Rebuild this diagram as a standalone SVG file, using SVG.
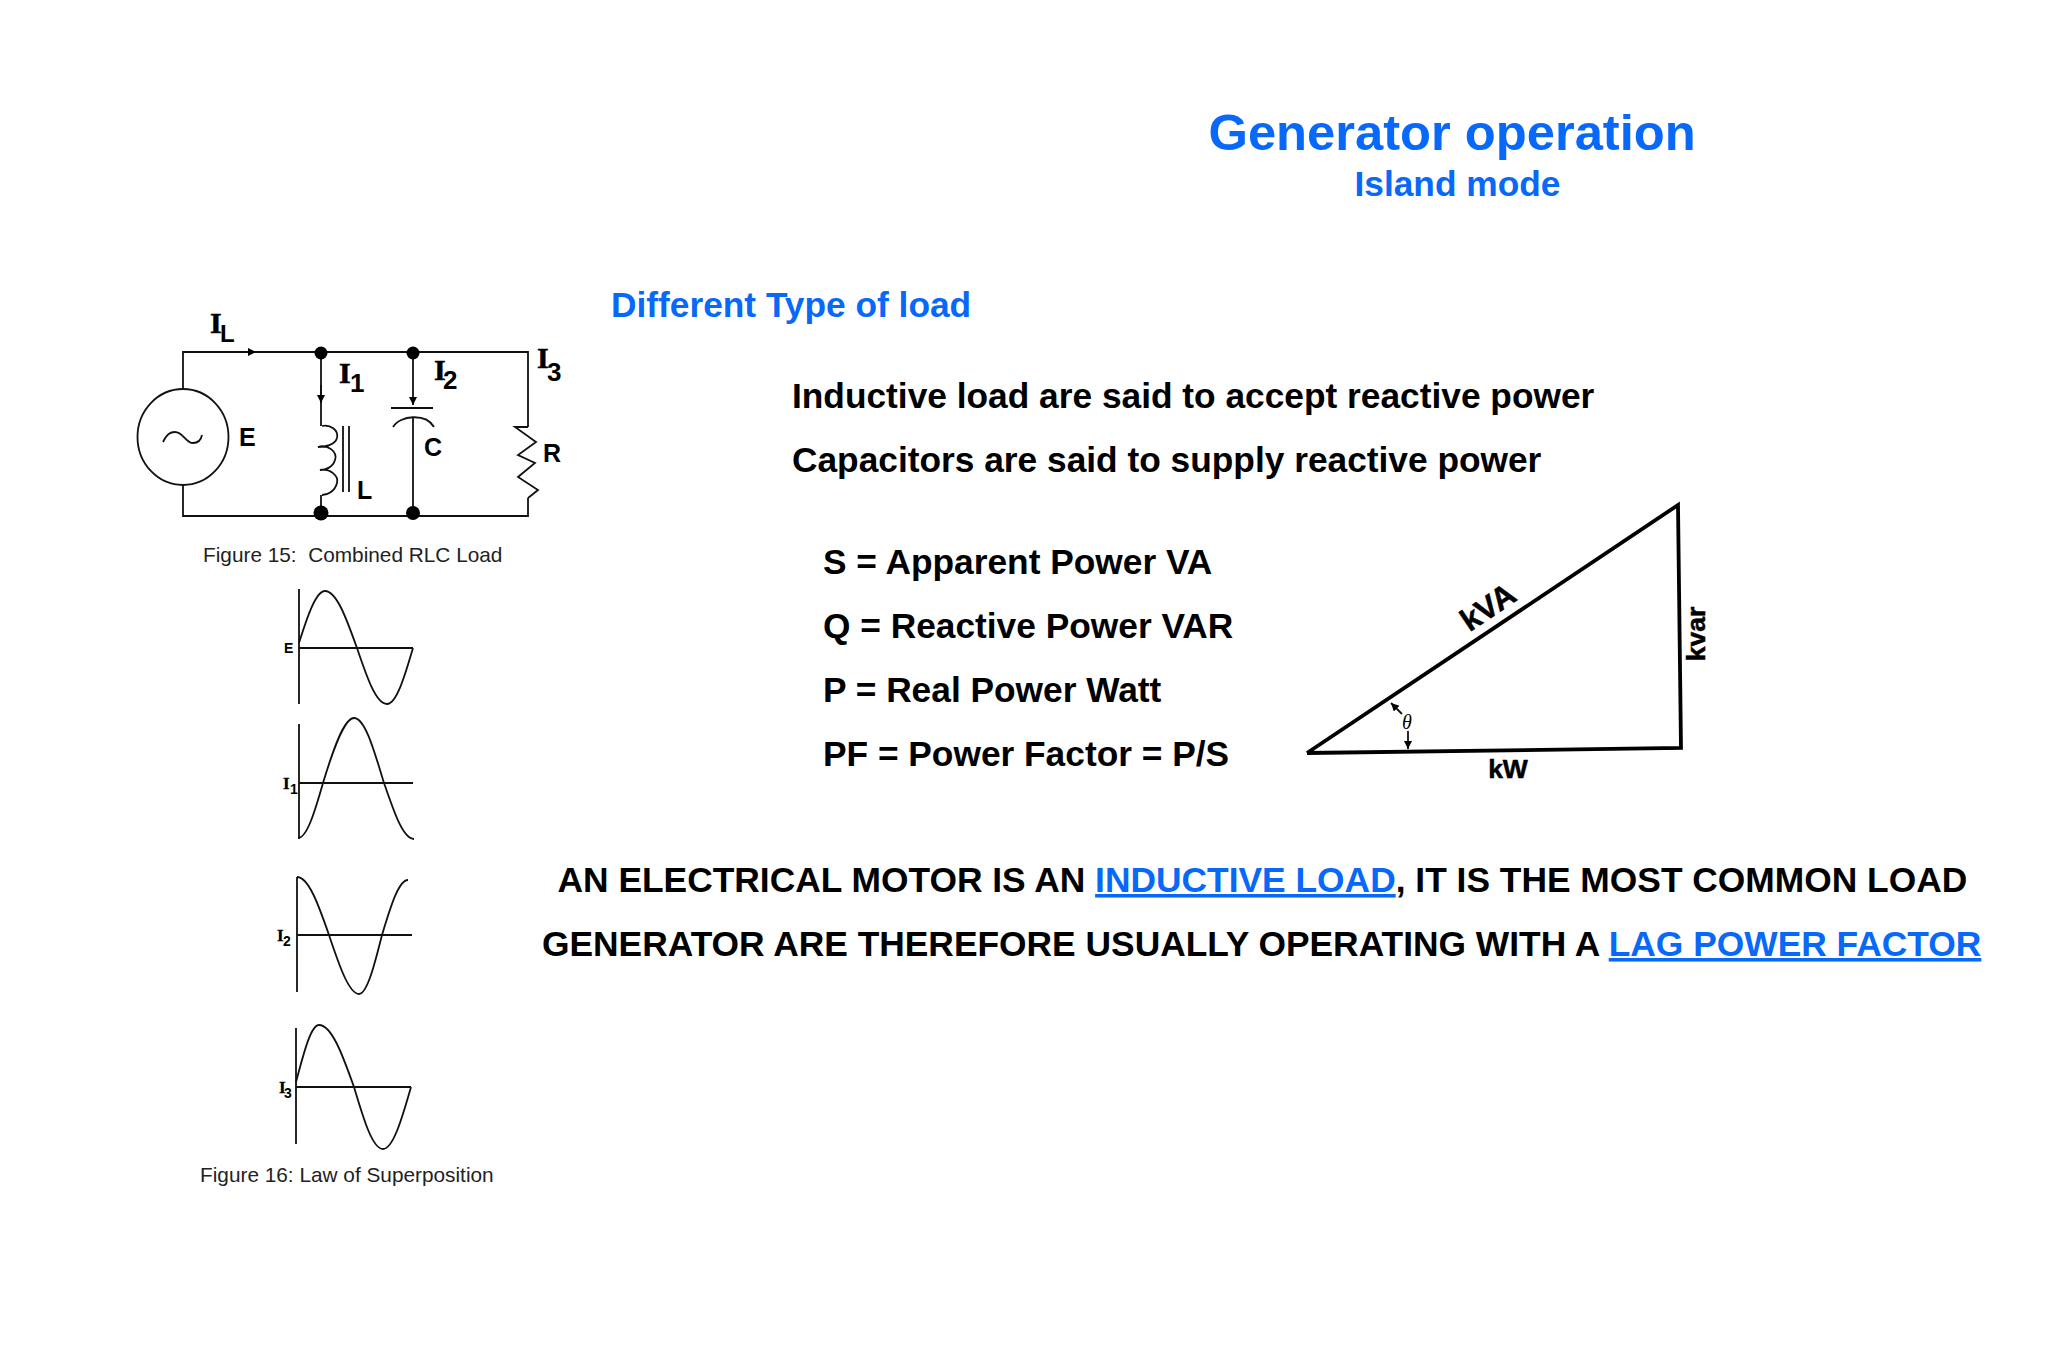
<svg xmlns="http://www.w3.org/2000/svg" width="2048" height="1366" viewBox="0 0 2048 1366">
<defs>
<style>
text{font-family:"Liberation Sans",Arial,sans-serif;font-weight:700;fill:#000}
.b{fill:#0868f8}
.l{font-size:35.3px}
.m{font-size:35.37px}
.a{fill:#0868f8;text-decoration:underline}
.w{fill:none;stroke:#111;stroke-width:1.8}
.d{fill:#000}
.c{font-size:20.8px;font-weight:400;fill:#222;white-space:pre}
.I{font-family:"Liberation Serif",serif;font-size:30px;stroke:#000;stroke-width:.6}
.n{font-size:25px}
.s{font-size:14px}
.sI{font-family:"Liberation Serif",serif;font-size:17px;stroke:#000;stroke-width:.3}
.tri{fill:none;stroke:#000;stroke-width:3.8;stroke-linejoin:miter}
.q{font-size:26.5px;stroke:#000;stroke-width:.5}
</style>
<marker id="ah" markerWidth="10" markerHeight="10" refX="8" refY="4" orient="auto" markerUnits="userSpaceOnUse"><path d="M0,0L8,4L0,8z" fill="#000"/></marker>
</defs>
<rect width="2048" height="1366" fill="#fff"/>
<g id="title">
<text class="b" x="1208.5" y="150" font-size="50.7">Generator operation</text>
<text class="b" x="1354.5" y="196" font-size="35.3">Island mode</text>
<text class="b l" x="611" y="317">Different Type of load</text>
</g>
<g id="statements">
<text class="l" x="792" y="408">Inductive load are said to accept reactive power</text>
<text class="l" x="792" y="472">Capacitors are said to supply reactive power</text>
<text class="l" x="823" y="574">S = Apparent Power VA</text>
<text class="l" x="823" y="638">Q = Reactive Power VAR</text>
<text class="l" x="823" y="702">P = Real Power Watt</text>
<text class="l" x="823" y="766">PF = Power Factor = P/S</text>
<text class="m" x="557.5" y="892">AN ELECTRICAL MOTOR IS AN <tspan class="a">INDUCTIVE LOAD</tspan>, IT IS THE MOST COMMON LOAD</text>
<text class="m" x="542" y="956">GENERATOR ARE THEREFORE USUALLY OPERATING WITH A <tspan class="a">LAG POWER FACTOR</tspan></text>
</g>
<g id="connectors">
<path class="w" d="M183,389V352H528V427M183,485V516H528V498"/>
<path class="w" d="M321,353V426M321,495V513"/>
<path class="w" d="M413,417V513"/>
<path class="w" d="M253,352H256" marker-end="url(#ah)"/>
<path class="w" d="M321,385V403" marker-end="url(#ah)"/>
<path class="w" d="M413,353V405" marker-end="url(#ah)"/>
</g>
<g id="source-E">
<ellipse class="w" cx="183" cy="437" rx="45.5" ry="48"/>
<path class="w" d="M163,442C167,434 170,432 175,432C183,432 186,443 193,443C198,443 201,440 202,435"/>
<text class="n" x="239" y="446">E</text>
</g>
<g id="inductor-L">
<path class="w" d="M322,426C330,424 339,430 337,438C335,445 325,447 318,447C328,444 338,452 335,460C333,467 326,470 320,470C330,468 339,476 337,483C335,491 328,495 322,495"/>
<path class="w" d="M343,426V492M349,426V492"/>
<text class="n" x="357" y="499">L</text>
</g>
<g id="capacitor-C">
<path class="w" d="M391,408H433M393,427C400,415 426,413 434,427"/>
<text class="n" x="424" y="456">C</text>
</g>
<g id="resistor-R">
<path class="w" d="M528,427H515L536,442L518,455L535,463L518,477L538,490L528,498"/>
<text class="n" x="543" y="462">R</text>
</g>
<g id="junctions">
<circle class="d" cx="321" cy="353" r="6.5"/><circle class="d" cx="413" cy="353" r="6.5"/>
<circle class="d" cx="321" cy="513" r="7.5"/><circle class="d" cx="413" cy="513" r="7"/>
</g>
<g id="current-labels">
<text class="I" x="210" y="333">I</text><text x="220" y="342" font-size="24">L</text>
<text class="I" x="339" y="383">I</text><text x="350" y="392" font-size="26">1</text>
<text class="I" x="434" y="380">I</text><text x="443" y="389" font-size="26">2</text>
<text class="I" x="537" y="368">I</text><text x="547" y="381" font-size="26">3</text>
</g>
<text class="c" x="203" y="562" xml:space="preserve">Figure 15:  Combined RLC Load</text>
<g id="wave-E">
<path class="w" d="M299,589V704M299,648H413"/>
<path class="w" d="M299,643C307.5,616 316,591 325,591C336.6,591 346.6,619 357,648C366.8,677 376,704 387,704C396.4,704 404.5,677 413,648"/>
<text class="s" x="284" y="653">E</text>
</g>
<g id="wave-I1">
<path class="w" d="M299,724V839M299,783H413"/>
<path class="w" d="M298,838C307,838 315,811 323,783C333,750 344,718 354,718C365,718 374,750 384,783C394,812 403,839 414,839"/>
<text class="sI" x="283" y="789">I</text><text x="290" y="794" font-size="14">1</text>
</g>
<g id="wave-I2">
<path class="w" d="M297,877V992M297,935H412"/>
<path class="w" d="M297,877C308.6,877 318.6,905 329,935C339,965 349,994 359,994C367,994 374.5,965 382,935C390.5,907 398.6,880 408,880"/>
<text class="sI" x="277" y="941">I</text><text class="s" x="283" y="946">2</text>
</g>
<g id="wave-I3">
<path class="w" d="M296,1028V1144M296,1087H411"/>
<path class="w" d="M296,1082C303.5,1054 310.7,1025 319,1025C331.7,1025 342.6,1055 354,1087C363.5,1119 372.5,1149 383,1149C393,1149 401.9,1119 411,1087"/>
<text class="sI" x="279" y="1093">I</text><text class="s" x="284" y="1098">3</text>
</g>
<text class="c" x="200" y="1182">Figure 16: Law of Superposition</text>
<g id="power-triangle">
<path class="tri" d="M1307,753L1678,505L1681,748L1307,753"/>
<path class="w" d="M1402,714L1391,703" marker-end="url(#ah)"/>
<path class="w" d="M1408,731V749" marker-end="url(#ah)"/>
<text x="1407" y="729" text-anchor="middle" font-size="20" style="font-family:'Liberation Serif',serif;font-style:italic;font-weight:400">θ</text>
<text class="q" x="1508" y="778" text-anchor="middle">kW</text>
<text class="q" transform="translate(1705,634) rotate(-90)" text-anchor="middle">kvar</text>
<text class="q" transform="translate(1494,616) rotate(-34)" text-anchor="middle" style="font-size:31.5px">kVA</text>
</g>
</svg>
